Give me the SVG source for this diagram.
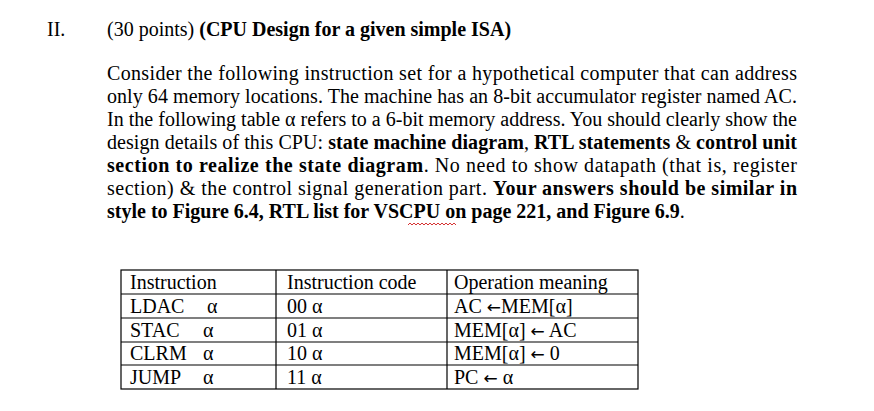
<svg xmlns="http://www.w3.org/2000/svg" width="874" height="411" viewBox="0 0 874 411">
<style>
text{font-family:"Liberation Serif","Times New Roman",serif;font-size:20px;fill:#000}
.b{font-weight:bold}
.a{font-family:"DejaVu Sans",sans-serif;font-size:17px}
.g{fill:none;stroke:#000;stroke-width:1.2}
</style>
<rect width="874" height="411" fill="#fff"/>
<g id="heading">
<text x="47" y="36">II.</text>
<text x="107" y="36">(30 points) <tspan class="b">(CPU Design for a given simple ISA)</tspan></text>
</g>
<g id="body">
<text x="107" y="80" textLength="690" lengthAdjust="spacing">Consider the following instruction set for a hypothetical computer that can address</text>
<text x="107" y="103" textLength="690" lengthAdjust="spacing">only 64 memory locations. The machine has an 8-bit accumulator register named AC.</text>
<text x="107" y="126" textLength="690" lengthAdjust="spacing">In the following table α refers to a 6-bit memory address. You should clearly show the</text>
<text x="107" y="149" textLength="690" lengthAdjust="spacing">design details of this CPU: <tspan class="b">state machine diagram</tspan>, <tspan class="b">RTL statements</tspan> &amp; <tspan class="b">control unit</tspan></text>
<text x="107" y="172" textLength="690" lengthAdjust="spacing"><tspan class="b">section to realize the state diagram</tspan>. No need to show datapath (that is, register</text>
<text x="107" y="195" textLength="690" lengthAdjust="spacing">section) &amp; the control signal generation part. <tspan class="b">Your answers should be similar in</tspan></text>
<text x="107" y="218" class="b">style to Figure 6.4, RTL list for VSCPU on page 221, and Figure 6.9<tspan font-weight="normal">.</tspan></text>
<path d="M408 225 l2 -2 l2 2 l2 -2 l2 2 l2 -2 l2 2 l2 -2 l2 2 l2 -2 l2 2 l2 -2 l2 2 l2 -2 l2 2 l2 -2 l2 2 l2 -2 l2 2 l2 -2 l2 2 l2 -2 l2 2 l2 -2 l2 2" fill="none" stroke="#c00" stroke-width="0.8"/>
</g>
<g id="table">
<rect x="121" y="270" width="517" height="119" class="g"/>
<line x1="276" y1="270" x2="276" y2="389" class="g"/>
<line x1="447" y1="270" x2="447" y2="389" class="g"/>
<line x1="121" y1="294" x2="638" y2="294" class="g"/>
<line x1="121" y1="318" x2="638" y2="318" class="g"/>
<line x1="121" y1="342" x2="638" y2="342" class="g"/>
<line x1="121" y1="365" x2="638" y2="365" class="g"/>
<text x="130" y="289">Instruction</text><text x="287" y="289">Instruction code</text><text x="454" y="289">Operation meaning</text>
<text x="130" y="313">LDAC</text><text x="207" y="313">α</text><text x="287" y="313">00 α</text><text x="454" y="313">AC <tspan class="a">←</tspan>MEM[α]</text>
<text x="130" y="337">STAC</text><text x="203" y="337">α</text><text x="287" y="337">01 α</text><text x="454" y="337">MEM[α] <tspan class="a">←</tspan> AC</text>
<text x="130" y="360">CLRM</text><text x="203" y="360">α</text><text x="287" y="360">10 α</text><text x="454" y="360">MEM[α] <tspan class="a">←</tspan> 0</text>
<text x="130" y="384">JUMP</text><text x="203" y="384">α</text><text x="287" y="384">11 α</text><text x="454" y="384">PC <tspan class="a">←</tspan> α</text>
</g>
</svg>
